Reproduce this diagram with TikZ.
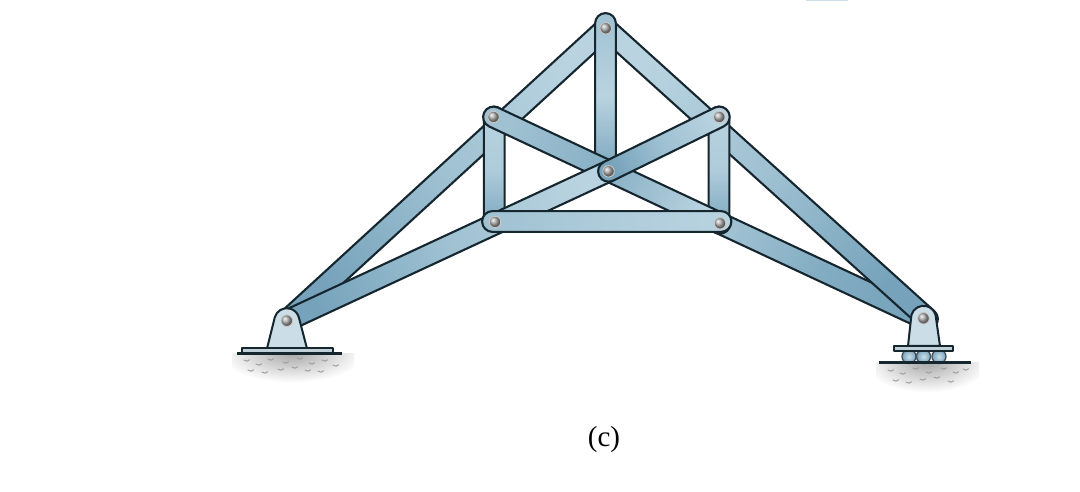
\documentclass[tikz,border=0pt]{standalone}
\usepackage{fontspec}
\setmainfont{Liberation Serif}
\usetikzlibrary{calc}

\definecolor{edgeblue}{HTML}{16262F}
\definecolor{lightbar}{HTML}{B9D3E0}
\definecolor{midbar}{HTML}{9FC1D2}
\definecolor{darkbar}{HTML}{76A3BB}
\definecolor{plateblue}{HTML}{CBDEE8}

\tikzset{
  memberbar/.style={draw=edgeblue, line width=2.1pt, line join=round},
  plate/.style={draw=edgeblue, line width=2pt, fill=plateblue, line join=round},
  groundline/.style={draw=edgeblue, line width=2.3pt},
  pin/.style={circle, draw=white!78!black, line width=.9pt, inner sep=0pt, minimum size=11.5pt, ball color=gray!65},
  roller/.style={circle, draw=edgeblue!80, line width=1.3pt, inner sep=0pt, minimum size=14pt, inner color=plateblue, outer color=darkbar},
  speck/.style={draw=gray!75, line width=1pt, line cap=round},
}

\def\memberw{10.4pt}
\newcommand{\member}[5]{%
  \path let \p1=($(#2)-(#1)$), \n1={atan2(\y1,\x1)} in
    \pgfextra{\pgfmathsetmacro{\angtmp}{\n1-90}\xdef\memberang{\angtmp}};
  \path[memberbar, bottom color=#3, top color=#5, middle color=#4, shading angle=\memberang]
    let \p1=($(#2)-(#1)$), \n1={atan2(\y1,\x1)} in
    ($(#1)+(\n1+90:\memberw)$) -- ($(#2)+(\n1+90:\memberw)$)
    arc[start angle=\n1+90, end angle=\n1-90, radius=\memberw]
    -- ($(#1)+(\n1-90:\memberw)$)
    arc[start angle=\n1-90, end angle=\n1-270, radius=\memberw] -- cycle;
}
\def\suppleft{(267,143.5) -- ($(suppA)+(165:12.5)$) arc[start angle=165, end angle=15, radius=12.5] -- (307,143.5) -- cycle}
\def\suppright{(908,146) -- ($(suppB)+(165:12.5)$) arc[start angle=165, end angle=15, radius=12.5] -- (940,146) -- cycle}

\begin{document}
\begin{tikzpicture}[x=1pt, y=1pt]
  \useasboundingbox (0,0) rectangle (1080,492);

  \coordinate (top) at (605.7,463.7);
  \coordinate (topend) at (605.5,468.5);
  \coordinate (midend) at (605.5,325);
  \coordinate (lefthi) at (493.5,375);
  \coordinate (righthi) at (719.3,375);
  \coordinate (leftlo) at (495,270);
  \coordinate (leftup) at (494.2,375);
  \coordinate (leftdn) at (494.2,270);
  \coordinate (rightup) at (719,375);
  \coordinate (rightdn) at (719,269);
  \coordinate (leftend) at (492.5,270.5);
  \coordinate (rightlo) at (720,268.7);
  \coordinate (rightend) at (721,270.5);
  \coordinate (mid) at (608.5,320.7);
  \coordinate (suppA) at (286.8,171.3);
  \coordinate (suppB) at (923.5,173.7);
  \coordinate (raftend) at (927.5,173);

  % ground
  \begin{scope}
    \clip (232,138.5) rectangle (354,110);
    \shade[inner color=gray!68, outer color=white] (292,138.5) ellipse (72 and 29);
  \end{scope}
  \begin{scope}
    \clip (876,129.5) rectangle (979,100);
    \shade[inner color=gray!68, outer color=white] (927,129.5) ellipse (62 and 30);
  \end{scope}
  \foreach \x/\y in {244/132,256/128,268/133,283/130,297/134,309/129,322/132,333/127,248/122,262/120,278/123,292/125,305/122,318/121,
                     888/122,900/119,913/124,926/120,941/124,953/120,963/123,893/112,906/110,920/113,934/115,948/111}
    \draw[speck] (\x,\y) -- ++(3,-1.2) -- ++(2.5,1.4);

  % bars, lowest first
  \member{rightlo}{suppB}{midbar}{darkbar!70!midbar}{darkbar}
  \member{top}{raftend}{lightbar}{midbar}{darkbar}
  \member{suppA}{top}{darkbar}{midbar}{lightbar}
  \member{topend}{midend}{midbar}{lightbar}{darkbar}
  \member{leftup}{leftdn}{lightbar}{lightbar!60!midbar}{darkbar}
  \member{rightup}{rightdn}{lightbar}{lightbar!60!midbar}{darkbar}
  \member{lefthi}{rightlo}{midbar}{darkbar!60!midbar}{lightbar}
  \member{suppA}{mid}{darkbar}{midbar}{lightbar}
  \member{mid}{righthi}{darkbar}{midbar}{lightbar}
  \member{leftend}{rightend}{midbar}{lightbar!60!midbar}{lightbar}

  % supports in front of the bars
  \draw[plate] \suppleft;
  \draw[plate] \suppright;

  % base plates, rollers
  \draw[plate, fill=plateblue!85!gray] (241.5,139) rectangle (333,143.5);
  \draw[groundline] (237,138.5) -- (342,138.5);
  \foreach \name/\x in {rolla/909, rollb/923.5, rollc/939}
    \node[roller] (\name) at (\x,135.5) {};
  \draw[plate, fill=plateblue!85!gray] (893.5,141) rectangle (953,146);
  \draw[groundline] (879,129.5) -- (971,129.5);

  % pins
  \foreach \p in {top, lefthi, righthi, leftlo, rightlo, mid, suppA, suppB}
    \node[pin] (pin\p) at (\p) {};

  \fill[plateblue] (806,492) rectangle (848,490.8);
  \node (caption) at (604,52) {\fontsize{29}{32}\selectfont (c)};
\end{tikzpicture}
\end{document}
